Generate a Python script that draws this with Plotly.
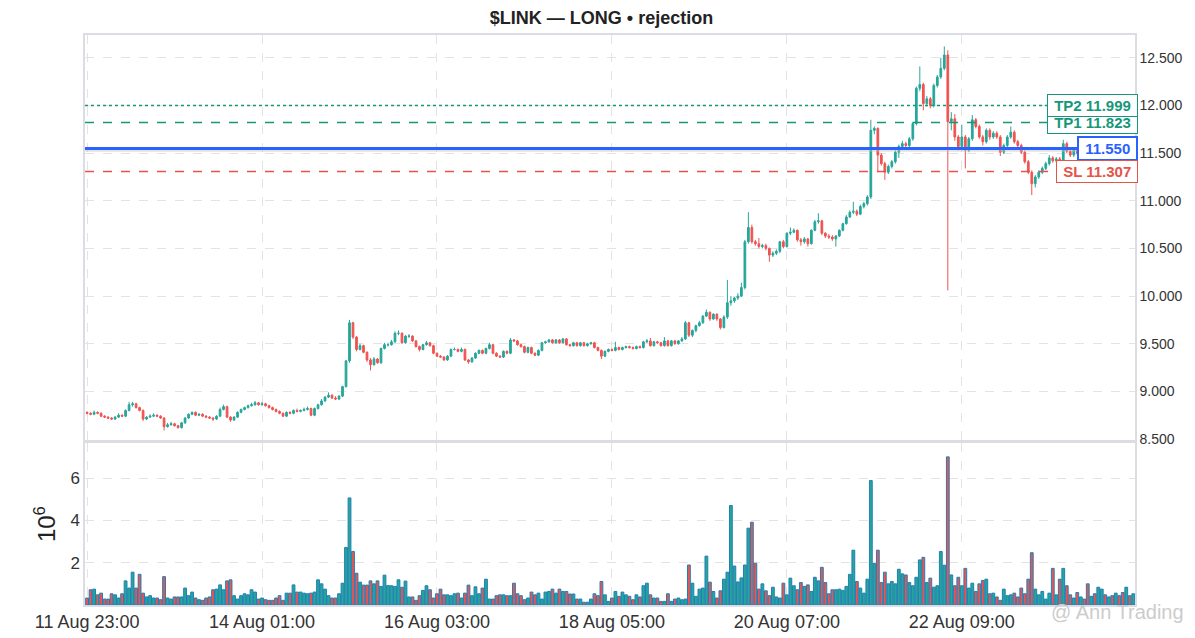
import pandas as pd
import plotly.graph_objects as go
from plotly.subplots import make_subplots

# hourly candles, $LINK
first_open = 8.78
closes = [
    8.77, 8.76, 8.78, 8.77, 8.74, 8.73, 8.72, 8.71, 8.73, 8.75,
    8.74, 8.80, 8.86, 8.87, 8.83, 8.80, 8.71, 8.73, 8.74, 8.75,
    8.74, 8.72, 8.63, 8.65, 8.66, 8.64, 8.62, 8.67, 8.72, 8.76,
    8.78, 8.75, 8.76, 8.74, 8.73, 8.72, 8.71, 8.74, 8.81, 8.84,
    8.73, 8.70, 8.73, 8.78, 8.81, 8.83, 8.85, 8.86, 8.88, 8.86,
    8.87, 8.85, 8.83, 8.81, 8.79, 8.77, 8.74, 8.78, 8.77, 8.80,
    8.79, 8.80, 8.81, 8.82, 8.75, 8.82, 8.86, 8.90, 8.94, 8.96,
    8.93, 8.92, 8.95, 9.05, 9.32, 9.72, 9.57, 9.44, 9.48, 9.41,
    9.33, 9.28, 9.34, 9.30, 9.45, 9.49, 9.49, 9.52, 9.61, 9.61,
    9.51, 9.58, 9.58, 9.53, 9.47, 9.44, 9.49, 9.51, 9.48, 9.40,
    9.37, 9.36, 9.33, 9.37, 9.44, 9.44, 9.42, 9.44, 9.33, 9.31,
    9.35, 9.40, 9.43, 9.40, 9.45, 9.49, 9.40, 9.37, 9.36, 9.42,
    9.40, 9.54, 9.53, 9.49, 9.47, 9.41, 9.46, 9.40, 9.38, 9.43,
    9.51, 9.52, 9.54, 9.51, 9.54, 9.51, 9.55, 9.49, 9.48, 9.51,
    9.48, 9.51, 9.48, 9.50, 9.51, 9.46, 9.43, 9.37, 9.42, 9.44,
    9.43, 9.46, 9.44, 9.46, 9.47, 9.46, 9.45, 9.47, 9.46, 9.52,
    9.53, 9.48, 9.52, 9.51, 9.48, 9.53, 9.48, 9.53, 9.50, 9.53,
    9.55, 9.72, 9.59, 9.64, 9.69, 9.72, 9.79, 9.83, 9.76, 9.81,
    9.76, 9.67, 9.78, 9.93, 9.95, 9.98, 10.00, 10.09, 10.57, 10.72,
    10.57, 10.55, 10.52, 10.53, 10.50, 10.43, 10.45, 10.47, 10.57, 10.52,
    10.66, 10.67, 10.69, 10.59, 10.57, 10.60, 10.55, 10.69, 10.78, 10.79,
    10.66, 10.63, 10.62, 10.60, 10.63, 10.69, 10.76, 10.83, 10.88, 10.89,
    10.86, 10.94, 10.97, 11.04, 11.74, 11.76, 11.48, 11.39, 11.30, 11.36,
    11.41, 11.51, 11.57, 11.60, 11.58, 11.65, 11.81, 12.18, 12.22, 12.02,
    12.07, 12.00, 12.21, 12.30, 12.39, 12.53, 11.83, 11.86, 11.67, 11.57,
    11.67, 11.53, 11.65, 11.85, 11.78, 11.67, 11.62, 11.74, 11.67, 11.71,
    11.67, 11.51, 11.58, 11.67, 11.72, 11.62, 11.58, 11.51, 11.41, 11.30,
    11.18, 11.25, 11.30, 11.34, 11.39, 11.45, 11.42, 11.44, 11.41, 11.60,
    11.52, 11.48, 11.53, 11.50, 11.58, 11.55, 11.52, 11.56, 11.50, 11.54,
    11.57, 11.53, 11.55, 11.51, 11.56, 11.54, 11.52, 11.55, 11.53, 11.55,
]
highs = [
    8.79, 8.78, 8.80, 8.79, 8.78, 8.75, 8.74, 8.73, 8.74, 8.77,
    8.76, 8.81, 8.89, 8.89, 8.88, 8.84, 8.81, 8.74, 8.76, 8.77,
    8.76, 8.75, 8.73, 8.67, 8.68, 8.67, 8.65, 8.68, 8.73, 8.77,
    8.79, 8.79, 8.77, 8.77, 8.75, 8.74, 8.73, 8.75, 8.83, 8.86,
    8.85, 8.74, 8.74, 8.79, 8.82, 8.84, 8.86, 8.88, 8.90, 8.89,
    8.89, 8.88, 8.86, 8.84, 8.82, 8.80, 8.78, 8.79, 8.79, 8.81,
    8.82, 8.81, 8.83, 8.84, 8.83, 8.83, 8.87, 8.92, 8.95, 8.99,
    8.97, 8.95, 8.96, 9.06, 9.33, 9.75, 9.73, 9.58, 9.50, 9.49,
    9.42, 9.35, 9.36, 9.35, 9.46, 9.51, 9.51, 9.54, 9.63, 9.64,
    9.62, 9.59, 9.60, 9.59, 9.54, 9.48, 9.50, 9.53, 9.52, 9.49,
    9.41, 9.38, 9.37, 9.38, 9.45, 9.46, 9.45, 9.46, 9.45, 9.34,
    9.36, 9.41, 9.44, 9.44, 9.46, 9.51, 9.50, 9.41, 9.38, 9.43,
    9.43, 9.56, 9.55, 9.54, 9.50, 9.48, 9.47, 9.47, 9.41, 9.44,
    9.52, 9.53, 9.55, 9.55, 9.55, 9.55, 9.56, 9.56, 9.50, 9.52,
    9.52, 9.52, 9.52, 9.51, 9.52, 9.52, 9.47, 9.44, 9.43, 9.45,
    9.45, 9.52, 9.47, 9.47, 9.48, 9.48, 9.47, 9.48, 9.48, 9.53,
    9.55, 9.56, 9.53, 9.53, 9.52, 9.57, 9.54, 9.54, 9.54, 9.54,
    9.57, 9.74, 9.73, 9.65, 9.70, 9.74, 9.80, 9.86, 9.84, 9.82,
    9.82, 9.77, 9.80, 10.17, 10.00, 9.99, 10.03, 10.14, 10.59, 10.88,
    10.75, 10.59, 10.61, 10.55, 10.55, 10.51, 10.47, 10.49, 10.58, 10.59,
    10.67, 10.72, 10.71, 10.70, 10.61, 10.62, 10.61, 10.70, 10.80, 10.87,
    10.80, 10.67, 10.65, 10.64, 10.64, 10.70, 10.77, 10.85, 10.90, 10.99,
    10.91, 10.96, 10.99, 11.06, 11.85, 11.78, 11.77, 11.50, 11.41, 11.38,
    11.43, 11.53, 11.59, 11.63, 11.62, 11.67, 11.83, 12.20, 12.41, 12.24,
    12.10, 12.09, 12.23, 12.32, 12.50, 12.62, 12.58, 11.93, 11.91, 11.69,
    11.80, 11.69, 11.67, 11.90, 11.87, 11.80, 11.69, 11.76, 11.76, 11.73,
    11.73, 11.69, 11.60, 11.69, 11.78, 11.74, 11.64, 11.60, 11.53, 11.43,
    11.32, 11.27, 11.32, 11.36, 11.41, 11.48, 11.47, 11.46, 11.46, 11.64,
    11.62, 11.54, 11.55, 11.55, 11.60, 11.59, 11.57, 11.58, 11.57, 11.56,
    11.59, 11.58, 11.57, 11.56, 11.57, 11.58, 11.56, 11.57, 11.56, 11.57,
]
lows = [
    8.76, 8.75, 8.75, 8.76, 8.73, 8.72, 8.71, 8.70, 8.70, 8.72,
    8.73, 8.73, 8.79, 8.84, 8.82, 8.79, 8.69, 8.70, 8.72, 8.73,
    8.73, 8.71, 8.59, 8.62, 8.64, 8.63, 8.61, 8.61, 8.66, 8.71,
    8.75, 8.74, 8.74, 8.73, 8.72, 8.71, 8.69, 8.70, 8.73, 8.80,
    8.72, 8.68, 8.69, 8.72, 8.77, 8.80, 8.82, 8.84, 8.85, 8.85,
    8.85, 8.84, 8.82, 8.80, 8.78, 8.76, 8.73, 8.73, 8.76, 8.76,
    8.78, 8.78, 8.79, 8.80, 8.74, 8.74, 8.81, 8.85, 8.89, 8.93,
    8.92, 8.91, 8.91, 8.94, 9.04, 9.30, 9.55, 9.42, 9.43, 9.40,
    9.31, 9.22, 9.27, 9.29, 9.29, 9.44, 9.47, 9.48, 9.51, 9.59,
    9.50, 9.50, 9.56, 9.52, 9.46, 9.42, 9.43, 9.48, 9.47, 9.39,
    9.36, 9.35, 9.32, 9.32, 9.36, 9.43, 9.41, 9.41, 9.32, 9.29,
    9.30, 9.34, 9.39, 9.39, 9.39, 9.44, 9.39, 9.36, 9.35, 9.35,
    9.39, 9.39, 9.52, 9.48, 9.46, 9.40, 9.40, 9.39, 9.37, 9.37,
    9.42, 9.50, 9.51, 9.50, 9.50, 9.50, 9.50, 9.48, 9.47, 9.47,
    9.47, 9.47, 9.47, 9.47, 9.49, 9.45, 9.42, 9.34, 9.36, 9.41,
    9.42, 9.42, 9.43, 9.43, 9.45, 9.45, 9.44, 9.44, 9.45, 9.45,
    9.51, 9.47, 9.47, 9.50, 9.47, 9.47, 9.47, 9.47, 9.49, 9.49,
    9.52, 9.54, 9.57, 9.57, 9.62, 9.68, 9.71, 9.78, 9.74, 9.75,
    9.74, 9.65, 9.66, 9.76, 9.90, 9.93, 9.96, 9.99, 10.07, 10.55,
    10.55, 10.53, 10.50, 10.50, 10.48, 10.36, 10.41, 10.43, 10.45, 10.50,
    10.51, 10.64, 10.66, 10.57, 10.53, 10.55, 10.52, 10.54, 10.68, 10.76,
    10.64, 10.61, 10.60, 10.58, 10.52, 10.62, 10.68, 10.75, 10.82, 10.86,
    10.84, 10.85, 10.92, 10.95, 11.02, 11.70, 11.30, 11.37, 11.22, 11.28,
    11.34, 11.39, 11.45, 11.55, 11.55, 11.56, 11.63, 11.79, 12.15, 11.95,
    11.99, 11.97, 11.98, 12.19, 12.28, 12.37, 10.06, 11.74, 11.63, 11.53,
    11.55, 11.34, 11.51, 11.63, 11.76, 11.65, 11.58, 11.60, 11.64, 11.65,
    11.65, 11.47, 11.49, 11.56, 11.65, 11.60, 11.55, 11.49, 11.39, 11.28,
    11.06, 11.14, 11.23, 11.28, 11.32, 11.37, 11.40, 11.40, 11.30, 11.39,
    11.50, 11.46, 11.46, 11.48, 11.49, 11.53, 11.50, 11.51, 11.48, 11.48,
    11.52, 11.52, 11.51, 11.49, 11.50, 11.52, 11.50, 11.51, 11.52, 11.52,
]
# volume in millions
volumes = [
    0.33, 0.72, 0.75, 0.48, 0.56, 0.28, 0.28, 0.53, 0.48, 0.33,
    0.53, 1.14, 0.80, 1.55, 0.80, 1.45, 0.56, 0.38, 0.44, 0.33,
    0.33, 0.25, 1.34, 0.33, 0.28, 0.38, 0.38, 0.38, 0.80, 0.44,
    0.61, 0.33, 0.25, 0.22, 0.33, 0.38, 0.72, 0.75, 0.95, 0.72,
    1.14, 1.19, 0.44, 0.28, 0.44, 0.53, 0.48, 0.72, 0.61, 0.28,
    0.33, 0.25, 0.22, 0.22, 0.33, 0.44, 0.22, 0.56, 0.56, 0.95,
    0.61, 0.61, 0.56, 0.53, 0.56, 0.61, 1.19, 1.00, 0.75, 0.44,
    0.33, 0.33, 0.53, 1.03, 2.72, 5.06, 2.53, 1.50, 1.08, 0.94,
    0.94, 1.14, 1.00, 1.14, 0.88, 1.41, 0.92, 0.91, 0.88, 1.19,
    0.84, 1.13, 0.38, 0.38, 0.22, 0.44, 0.69, 0.91, 0.72, 0.33,
    0.53, 0.75, 0.48, 0.48, 0.44, 0.53, 0.56, 0.33, 0.56, 0.94,
    0.44, 0.86, 0.53, 0.80, 1.22, 0.28, 0.28, 0.44, 0.48, 0.48,
    0.44, 0.44, 1.03, 0.53, 0.44, 0.25, 0.33, 0.61, 0.48, 0.56,
    0.28, 0.61, 0.64, 0.75, 0.56, 0.75, 0.64, 0.64, 0.52, 0.52,
    0.28, 0.28, 0.13, 0.13, 0.28, 0.53, 0.44, 1.11, 0.48, 0.17,
    0.33, 0.64, 0.41, 0.61, 0.48, 0.41, 0.25, 0.48, 0.38, 0.91,
    1.03, 0.48, 0.33, 0.33, 0.17, 0.17, 0.53, 0.17, 0.28, 0.33,
    0.25, 0.28, 1.89, 1.03, 0.41, 0.75, 0.80, 2.31, 1.08, 0.64,
    0.33, 0.67, 1.22, 1.55, 4.70, 1.84, 1.09, 1.28, 1.89, 3.63,
    3.91, 1.97, 0.75, 1.00, 0.67, 0.44, 0.84, 0.38, 0.33, 1.03,
    0.48, 1.27, 0.91, 0.72, 1.06, 0.88, 0.95, 0.64, 1.31, 1.14,
    1.78, 1.06, 0.53, 0.72, 0.72, 0.75, 0.69, 0.88, 1.45, 2.59,
    1.11, 0.80, 0.56, 1.22, 5.88, 1.97, 2.59, 1.06, 1.55, 1.00,
    1.11, 1.00, 1.69, 1.47, 1.42, 1.06, 0.91, 1.31, 2.13, 2.25,
    1.06, 1.27, 0.84, 0.91, 2.53, 1.88, 7.00, 1.42, 0.91, 1.31,
    0.91, 1.73, 0.80, 1.03, 0.64, 1.00, 1.16, 1.22, 0.53, 0.56,
    0.38, 0.22, 0.75, 0.44, 0.48, 0.56, 0.38, 0.80, 0.53, 1.22,
    2.47, 0.75, 0.48, 0.64, 0.28, 0.56, 1.73, 0.48, 1.22, 1.73,
    0.91, 0.48, 0.33, 0.59, 0.38, 0.28, 1.00, 0.41, 0.53, 0.84,
    0.75, 0.48, 0.38, 0.44, 0.56, 0.44, 0.59, 0.84, 0.44, 0.53,
]

start_time = "2022-08-11 23:00"
entry = 11.550
stop_loss = 11.307
tp1 = 11.823
tp2 = 11.999
price_ticks = [8.5, 9.0, 9.5, 10.0, 10.5, 11.0, 11.5, 12.0, 12.5]
vol_ticks = [2, 4, 6]

UP = "#26a69a"
DOWN = "#ef5350"
GREEN = "#16977a"
BLUE = "#2962ff"
RED = "#e5534b"
GRID = "#e3e3e3"
BORDER = "#dcdce4"
FONT = "Liberation Sans, Arial, sans-serif"

times = pd.date_range(start_time, periods=len(closes), freq="h")
opens = [first_open] + closes[:-1]
vol_colors = [UP if c >= o else DOWN for o, c in zip(opens, closes)]

fig = make_subplots(rows=2, cols=1, shared_xaxes=True, vertical_spacing=0.005)

fig.add_trace(go.Candlestick(
    x=times, open=opens, high=highs, low=lows, close=closes,
    increasing=dict(line=dict(color=UP, width=1), fillcolor=UP),
    decreasing=dict(line=dict(color=DOWN, width=1), fillcolor=DOWN),
    showlegend=False,
), row=1, col=1)

fig.add_trace(go.Bar(
    x=times, y=volumes,
    marker=dict(color=vol_colors, line=dict(color="#1f7fb4", width=1)),
    showlegend=False,
), row=2, col=1)

# trade levels
levels = [
    (tp2, GREEN, "dot", 1.5),
    (tp1, GREEN, "dash", 1.5),
    (entry - 0.02, "rgba(190,190,190,0.45)", "solid", 3),
    (entry, BLUE, "solid", 3),
    (stop_loss, RED, "dash", 1.5),
]
for y, col, dash, w in levels:
    fig.add_shape(type="line", xref="x domain", x0=0, x1=1, yref="y", y0=y, y1=y,
                  line=dict(color=col, width=w, dash=dash), layer="above")

tags = [
    ("TP1 %.3f" % tp1, tp1, GREEN, 1),
    ("TP2 %.3f" % tp2, tp2, GREEN, 1),
    ("%.3f" % entry, entry, BLUE, 2),
    ("SL %.3f" % stop_loss, stop_loss, RED, 1),
]
for text, y, col, bw in tags:
    fig.add_annotation(
        text="<b>&nbsp;%s&nbsp;</b>" % text, xref="paper", x=1, xanchor="right", xshift=3,
        yref="y", y=y, yanchor="middle", showarrow=False,
        font=dict(family=FONT, size=15, color=col),
        bgcolor="white", bordercolor=col, borderwidth=bw, borderpad=2,
    )

fig.add_annotation(
    text="@ Ann Trading", xref="paper", yref="paper", x=1.049, y=-0.012,
    xanchor="right", yanchor="middle", showarrow=False,
    font=dict(family=FONT, size=20, color="#cccccc"),
)

x_range = [times[0] - pd.Timedelta(minutes=36), times[-1] + pd.Timedelta(minutes=30)]
tickvals = list(times[::50])
ticktext = [t.strftime("%d %b %H:%M") for t in tickvals]

axis_common = dict(showgrid=True, gridcolor=GRID, griddash="dash", zeroline=False,
                   showline=True, linecolor=BORDER, linewidth=1.5, mirror=True,
                   automargin=False)

fig.update_xaxes(range=x_range, tickvals=tickvals, ticktext=ticktext, **axis_common)
fig.update_xaxes(rangeslider_visible=False, showticklabels=False, row=1, col=1)
fig.update_xaxes(ticks="", tickfont=dict(family=FONT, size=18, color="#333"), row=2, col=1)

fig.update_yaxes(range=[8.49, 12.74], tickvals=price_ticks, tickformat=".3f",
                 side="right", tickfont=dict(family=FONT, size=14, color="#333"),
                 row=1, col=1, **axis_common)
fig.update_yaxes(range=[0, 7.65], tickvals=vol_ticks, side="left",
                 tickfont=dict(family=FONT, size=17, color="#333"),
                 title=dict(text="10<sup>6</sup>", font=dict(family=FONT, size=24, color="#222"),
                            standoff=8),
                 row=2, col=1, **axis_common)

# page body adds an 8px offset, so the figure is 8px smaller than the window
fig.update_layout(
    width=1187, height=630,
    margin=dict(l=77, r=60, t=27, b=33),
    paper_bgcolor="white", plot_bgcolor="white",
    title=dict(text="<b>$LINK — LONG • rejection</b>", x=0.5, xanchor="center",
               y=0.984, yanchor="middle",
               font=dict(family=FONT, size=18, color="#222")),
    yaxis=dict(domain=[0.2895, 1]),
    yaxis2=dict(domain=[0, 0.284]),
    bargap=0.2,
    hovermode="x",
)

fig.write_html("out.html")
